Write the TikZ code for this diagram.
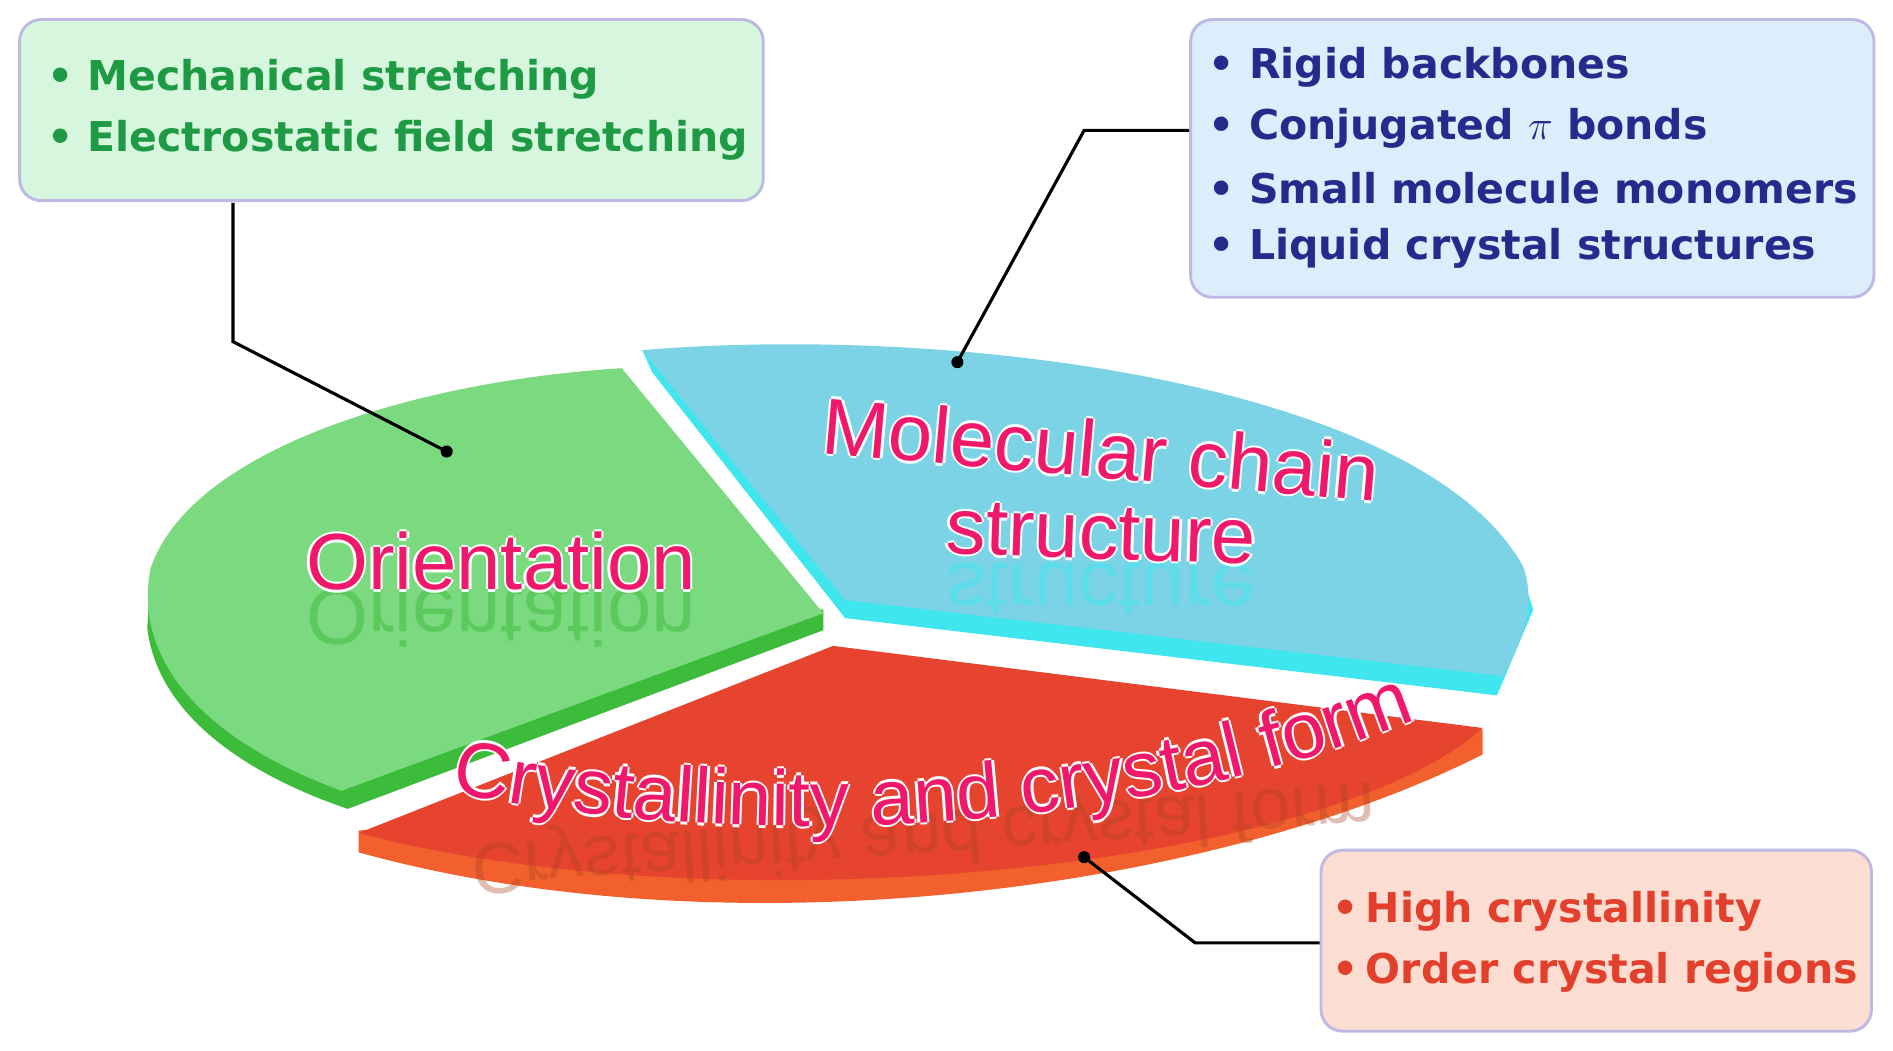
\documentclass[tikz,border=0pt]{standalone}
\usepackage{fontspec}
\setmainfont{Liberation Sans}
\newfontfamily\boxfont{DejaVu Sans}
\usetikzlibrary{decorations.text,calc}
\definecolor{gfill}{HTML}{D6F6DD}
\definecolor{gtext}{HTML}{1E9A44}
\definecolor{bfill}{HTML}{DCEEFB}
\definecolor{btext}{HTML}{232C8C}
\definecolor{rfill}{HTML}{FBDDD2}
\definecolor{rtext}{HTML}{E2402C}
\definecolor{bord}{HTML}{BDB8E4}
\definecolor{pinkc}{HTML}{F0186A}
\definecolor{gtop}{HTML}{7BD97F}
\definecolor{gside}{HTML}{3DBB3A}
\definecolor{btop}{HTML}{7CD3E6}
\definecolor{bside}{HTML}{3FE6EE}
\definecolor{rtop}{HTML}{E6442F}
\definecolor{rside}{HTML}{F2602E}
\begin{document}
\begin{tikzpicture}[x=0.5pt,y=-0.5pt,
  box/.style={draw=bord,line width=1.2pt,rounded corners=9pt},
  btxt/.style={anchor=west,font=\boxfont\bfseries\fontsize{17}{19}\selectfont},
  conn/.style={line width=1.3pt,black},
  dot/.style={circle,fill=black,inner sep=0pt,minimum size=5pt},
  big/.style={text=pinkc,font=\fontsize{33}{35}\selectfont},
  glow/.style={text=white,font=\fontsize{33}{35}\selectfont},
  refl/.style={opacity=0.5,yscale=-1,font=\fontsize{33}{35}\selectfont}]
\useasboundingbox (0,0) rectangle (1568,870);
% boxes
\node[box,fill=gfill,minimum width=308pt,minimum height=75pt,anchor=north west] (gb) at (15,15) {};
\node[btxt,text=gtext] (g1) at (32,66) {• Mechanical stretching};
\node[btxt,text=gtext] (g2) at (32,116) {• Electrostatic field stretching};
\node[box,fill=bfill,minimum width=283pt,minimum height=115pt,anchor=north west] (bb) at (985,15) {};
\node[btxt,text=btext] at (994,56) {• Rigid backbones};
\node[btxt,text=btext] at (994,106) {• Conjugated $\pi$ bonds};
\node[btxt,text=btext] at (994,156) {• Small molecule monomers};
\node[btxt,text=btext] at (994,206) {• Liquid crystal structures};
\node[box,fill=rfill,minimum width=228pt,minimum height=75pt,anchor=north west] (rb) at (1093,703) {};
\node[btxt,text=rtext] at (1097,755) {•\,High crystallinity};
\node[btxt,text=rtext] at (1097,805) {•\,Order crystal regions};
% green slice
\fill[gside] (682,505) -- (682,522) -- (288,670) .. controls (200,640) and (130,590) .. (122,520) -- (125,470) -- cycle;
\fill[gtop] (515,305) -- (682,508) -- (283,655) .. controls (160,610) and (110,540) .. (125,470) .. controls (160,370) and (350,315) .. (515,305) -- cycle;
% blue slice
\fill[bside] (532,290) -- (540,308) -- (700,512) -- (1240,576) -- (1270,505) -- (1262,480) -- cycle;
\fill[btop] (532,290) .. controls (800,268) and (1180,320) .. (1262,470) .. controls (1272,500) and (1262,530) .. (1245,560) -- (700,497) -- cycle;
% red slice
\fill[rside] (297,688) -- (297,706) .. controls (600,790) and (1000,740) .. (1228,625) -- (1228,604) -- cycle;
\fill[rtop] (297,690) -- (690,535) -- (1228,603) .. controls (1100,720) and (600,770) .. (297,690) -- cycle;
% reflections
\node[refl,text=gside] at (415,512) {Orientation};
\node[refl,text=bside] at (912,488) {structure};
\node[refl,text=rside!70!black,opacity=0.35,font=\fontsize{30}{32}\selectfont,rotate=-4] at (765,690) {Crystallinity and crystal form};
% labels
\foreach \dx/\dy in {2/0,-2/0,0/2,0/-2}{
  \node[glow] at ($(415,465)+(\dx,\dy)$) {Orientation};
  \node[glow,rotate=-5] at ($(912,372)+(\dx,\dy)$) {Molecular chain};
  \node[glow,rotate=-2] at ($(912,442)+(\dx,\dy)$) {structure};
  \path[decorate,decoration={text along path,text align=center,
    text={|\fontsize{32.5}{34}\selectfont\color{white}|Crystallinity and crystal form}}]
    ($(345,650)+(\dx,\dy)$) .. controls ($(620,712)+(\dx,\dy)$) and ($(960,690)+(\dx,\dy)$) .. ($(1200,585)+(\dx,\dy)$);
}
\node[big] (ori) at (415,465) {Orientation};
\node[big,rotate=-5] (mol) at (912,372) {Molecular chain};
\node[big,rotate=-2] (str) at (912,442) {structure};
\path[decorate,decoration={text along path,text align=center,
    text={|\fontsize{32.5}{34}\selectfont\color{pinkc}|Crystallinity and crystal form}}]
    (345,650) .. controls (620,712) and (960,690) .. (1200,585);
% connectors
\node[dot] (d1) at (370,374) {};
\node[dot] (d2) at (793,300) {};
\node[dot] (d3) at (898,710) {};
\coordinate (c1) at (193,168);
\coordinate (c1b) at (193,283);
\coordinate (c2) at (985,108);
\coordinate (c2b) at (898,108);
\coordinate (c3) at (1093,781);
\coordinate (c3b) at (990,781);
\draw[conn] (c1) -- (c1b) -- (d1.center);
\draw[conn] (c2) -- (c2b) -- (d2.center);
\draw[conn] (c3) -- (c3b) -- (d3.center);
\end{tikzpicture}
\end{document}
